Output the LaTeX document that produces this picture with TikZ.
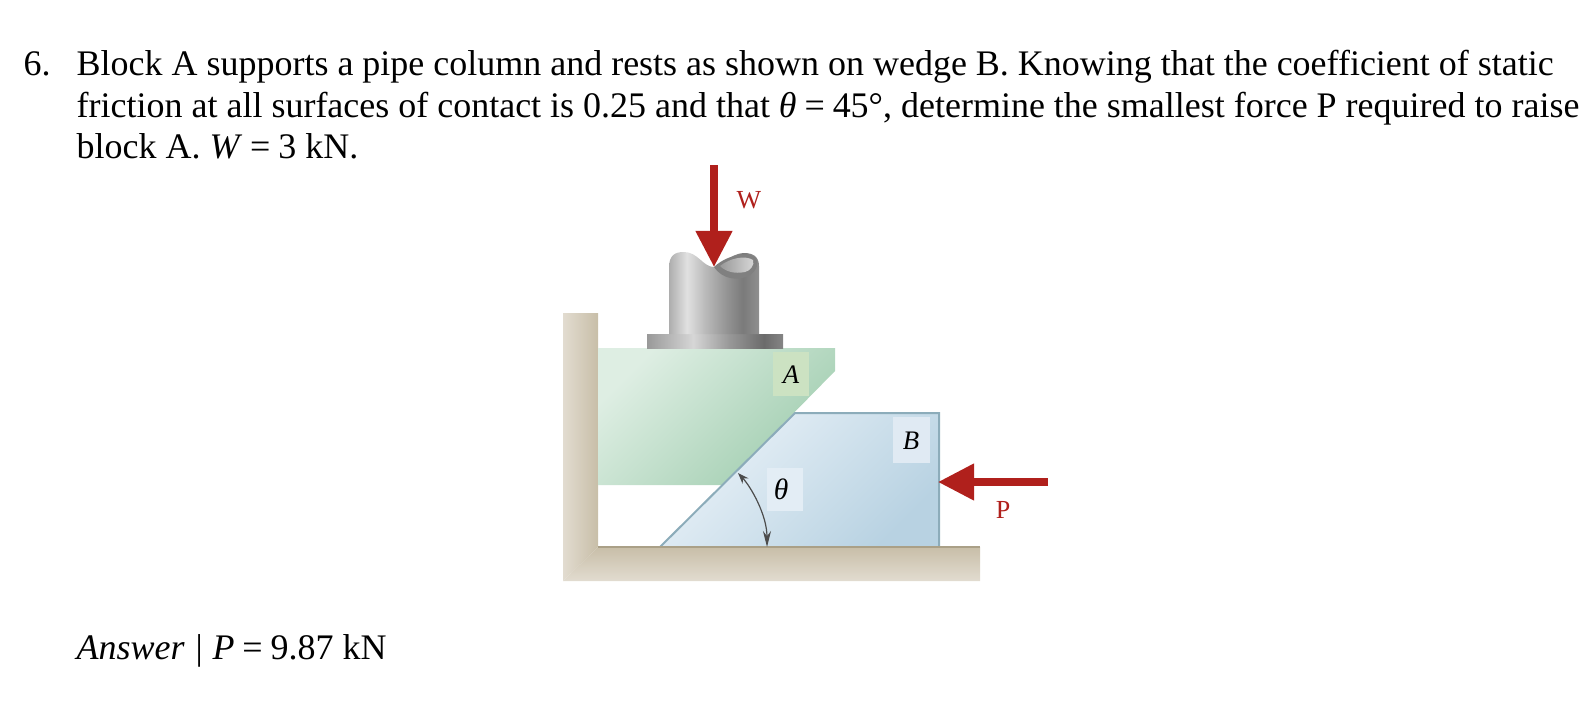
\documentclass[tikz,border=0pt]{standalone}
\usepackage{fontspec}
\setmainfont{Liberation Serif}
\usetikzlibrary{arrows.meta,calc}
\definecolor{forcered}{RGB}{176,32,28}
\definecolor{wallline}{RGB}{170,160,135}
\definecolor{walllight}{RGB}{226,220,208}
\definecolor{walldark}{RGB}{200,190,168}
\definecolor{wedgeline}{RGB}{140,172,186}
\definecolor{blockAlight}{RGB}{222,238,227}
\definecolor{blockAdark}{RGB}{160,205,175}
\definecolor{wedgelight}{RGB}{234,242,248}
\definecolor{wedgedark}{RGB}{184,210,226}
\definecolor{patchA}{RGB}{204,226,194}
\definecolor{patchB}{RGB}{224,234,243}
\definecolor{patchT}{RGB}{227,237,245}
\pgfdeclarehorizontalshading{pipeshade}{100bp}{
  color(0bp)=(black!32); color(25bp)=(black!32); color(35bp)=(black!12);
  color(45bp)=(black!27); color(57bp)=(black!42); color(66bp)=(black!52);
  color(75bp)=(black!44); color(100bp)=(black!44)}
\pgfdeclarehorizontalshading{flangeshade}{100bp}{
  color(0bp)=(black!40); color(25bp)=(black!40); color(42bp)=(black!16);
  color(55bp)=(black!40); color(68bp)=(black!58); color(75bp)=(black!48); color(100bp)=(black!48)}
\tikzset{
  problemtext/.style={anchor=base west,inner sep=0pt,font=\fontsize{10.23pt}{12pt}\selectfont},
  forcearrow/.style={draw=forcered,line width=0.075cm,-{Triangle[length=0.36cm,width=0.35cm,fill=forcered]}},
  forcelabel/.style={text=forcered,inner sep=0pt,font=\fontsize{7.4pt}{9pt}\selectfont},
  partlabel/.style={inner sep=0pt,font=\itshape\fontsize{7.6pt}{9pt}\selectfont},
}
\newcommand{\eqsign}{\hspace{0.22em}=\hspace{0.22em}}
\begin{document}
\begin{tikzpicture}[x=0.01cm,y=-0.01cm]
  \useasboundingbox (0,0) rectangle (1590,712);

  % wall and floor
  \shade[left color=walllight,right color=walldark] (563,313) -- (598,313) -- (598,547) -- (563,581) -- cycle;
  \shade[top color=walldark,bottom color=walllight] (563,581) -- (598,547) -- (980,547) -- (980,581) -- cycle;

  % block A
  \shade[left color=blockAlight,right color=blockAdark,shading angle=45]
    (598,348) -- (835,348) -- (835,371) -- (723,485) -- (598,485) -- cycle;
  % wedge B
  \shade[left color=wedgelight,right color=wedgedark,shading angle=45]
    (660,547) -- (795,413) -- (939,413) -- (939,547) -- cycle;
  \draw[wedgeline,line width=0.02cm] (660,547) -- (795,413) -- (939,413) -- (939,547);
  \draw[wallline,line width=0.02cm] (598,547) -- (980,547);

  % pipe column
  \shade[shading=flangeshade] (647,334) rectangle (783,348);
  \shade[shading=pipeshade] (669,334) -- (669,268) .. controls (669,255) and (675,252) .. (684,252)
    .. controls (698,252) and (703,267) .. (714,267)
    .. controls (722,267) and (728,254) .. (744,253)
    .. controls (752,253) and (759,256) .. (759,266) -- (759,334) -- cycle;
  \fill[black!50] (714,267) .. controls (722,279) and (738,282) .. (750,275)
    .. controls (757,270) and (759,263) .. (756,258)
    .. controls (752,253) and (730,252) .. (714,267) -- cycle;
  \shade[left color=black!40,right color=black!15] (720,266) .. controls (730,258) and (745,255) .. (753,260)
    .. controls (755,265) and (750,271) .. (745,272) .. controls (735,274) and (726,272) .. (720,266) -- cycle;

  % labels on pale patches
  \fill[patchA] (773,352) rectangle (809,396);
  \node[partlabel] (labelA) at (791,375) {A};
  \fill[patchB] (893,417) rectangle (930,463);
  \node[partlabel] (labelB) at (911,441) {B};
  \fill[patchT] (767,468) rectangle (803,511);
  \node[partlabel,font=\itshape\fontsize{8.4pt}{9pt}\selectfont] (labelT) at (781,489) {θ};

  % angle
  \coordinate (thetaA) at (738,473);
  \coordinate (thetaB) at (767,547);
  \draw[black!70,line width=0.012cm,{Stealth[length=0.11cm,width=0.08cm]}-{Stealth[length=0.16cm,width=0.08cm]}]
    (thetaA) .. controls (751,487) and (767,515) .. (thetaB);

  % forces
  \coordinate (wTail) at (714,165);
  \coordinate (wTip) at (714,267);
  \coordinate (pTail) at (1048,482);
  \coordinate (pTip) at (938,482);
  \draw[forcearrow] (wTail) -- (wTip);
  \draw[forcearrow] (pTail) -- (pTip);
  \node[forcelabel] (labelW) at (749,200) {W};
  \node[forcelabel] (labelP) at (1003,510) {P};

  % text
  \node[problemtext] (num) at (23,75) {6.};
  \node[problemtext] (lineA) at (76,75) {Block A supports a pipe column and rests as shown on wedge B. Knowing that the coefficient of static};
  \node[problemtext] (lineB) at (76,117) {friction at all surfaces of contact is 0.25 and that \textit{θ}\eqsign 45°, determine the smallest force P required to raise};
  \node[problemtext] (lineC) at (76,158) {block A. \textit{W}\eqsign 3 kN.};
  \node[problemtext] (answer) at (76,659) {\textit{Answer | P}\eqsign 9.87 kN};
\end{tikzpicture}
\end{document}
